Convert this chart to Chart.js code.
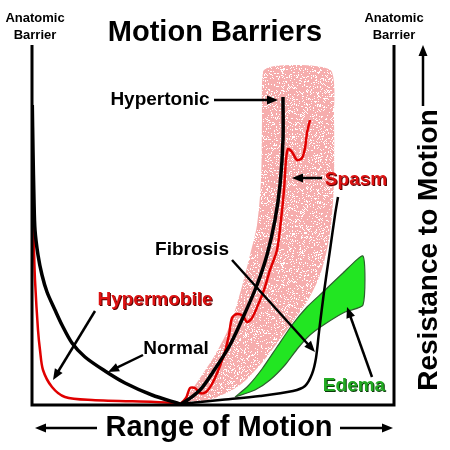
<!DOCTYPE html>
<html>
<head>
<meta charset="utf-8">
<title>Motion Barriers</title>
<script src="https://cdn.jsdelivr.net/npm/chart.js@4.4.1/dist/chart.umd.min.js"></script>
<style>
  html, body { margin: 0; padding: 0; background: #fff; }
  canvas { display: block; }
</style>
</head>
<body>
<canvas id="myChart" width="450" height="450"></canvas>
<script>
// x = range of motion, y = resistance to motion (units)
const barrier = [[0, 360], [0, 0], [362, 0], [362, 360]];

const normal = [[0.3, 300], [1, 255], [2, 205], [3, 175], [6, 150], [10, 130], [15, 113], [23, 95],
  [30, 80], [40, 62], [53, 48], [73, 34], [93, 22], [120, 10], [145, 2], [149, 1], [168, 15],
  [181, 33], [198, 60], [213, 92], [225, 120], [235, 150], [243, 185], [248, 220], [251, 265],
  [251, 308]];

const hypermobile = [[0.5, 215], [2, 155], [3, 125], [6, 75], [8, 55], [11, 35], [20, 18], [33, 8],
  [60, 5], [123, 3], [146, 2], [148, 1], [154, 7], [158, 17], [163, 17], [168, 12], [174, 13],
  [180, 21], [186, 34], [192, 50], [197, 70], [200, 87], [205, 91], [211, 89], [215, 83],
  [220, 87], [226, 100], [232, 115], [238, 135], [245, 155], [249, 185], [252, 215], [254, 245],
  [256, 256], [260, 253], [265, 245], [270, 247], [273, 257], [275, 272], [278, 285]];

const spasmZone = [[148, 1], [156, 10], [168, 27], [183, 50], [198, 80], [209, 115], [218, 150],
  [225, 180], [229, 225], [230, 285], [231, 333], [238, 338], [258, 340], [283, 339], [300, 333],
  [302, 285], [302, 225], [300, 190], [296, 160], [288, 130], [276, 105], [262, 85], [246, 63],
  [228, 40], [208, 20], [183, 7], [163, 2], [148, 1]];

const edema = [[203, 8], [216, 19], [230, 36], [245, 58], [260, 80], [275, 98], [291, 113],
  [311, 132], [331, 149], [331, 100], [313, 93], [293, 81], [278, 70], [266, 57], [253, 40],
  [238, 25], [223, 15], [203, 8]];

const fibrosis = [[148, 1], [188, 5], [228, 9], [261, 14], [273, 19], [280, 31], [284, 47],
  [287, 73], [292, 113], [298, 155], [303, 190], [306, 208]];

// text and arrows drawn on top
const notes = [
  { text: "Motion Barriers", at: [183, 372], font: "bold 29px 'Liberation Sans', Arial", color: "#000" },
  { text: "Anatomic", at: [3, 387], font: "bold 13px 'Liberation Sans', Arial", color: "#000" },
  { text: "Barrier", at: [3, 370], font: "bold 13px 'Liberation Sans', Arial", color: "#000" },
  { text: "Anatomic", at: [362, 387], font: "bold 13px 'Liberation Sans', Arial", color: "#000" },
  { text: "Barrier", at: [362, 370], font: "bold 13px 'Liberation Sans', Arial", color: "#000" },
  { text: "Hypertonic", at: [128, 305], font: "bold 19px 'Liberation Sans', Arial", color: "#000" },
  { text: "Fibrosis", at: [160, 155], font: "bold 19px 'Liberation Sans', Arial", color: "#000" },
  { text: "Normal", at: [144, 56], font: "bold 19px 'Liberation Sans', Arial", color: "#000" },
  { text: "Hypermobile", at: [123, 105], font: "bold 19px 'Liberation Sans', Arial", color: "#dd1111", shadow: "#5a0000" },
  { text: "Spasm", at: [324, 225], font: "bold 19px 'Liberation Sans', Arial", color: "#dd1111", shadow: "#5a0000" },
  { text: "Edema", at: [322, 19], font: "bold 19px 'Liberation Sans', Arial", color: "#22aa22", shadow: "#0a3a0a" },
  { text: "Range of Motion", at: [187, -23], font: "bold 29px 'Liberation Sans', Arial", color: "#000" },
  { text: "Resistance to Motion", at: [397, 155], font: "bold 28px 'Liberation Sans', Arial", color: "#000", rotate: true }
];

const arrows = [
  [182, 305, 246, 305],
  [290, 227, 260, 227],
  [200, 145, 283, 53],
  [63, 94, 21, 25],
  [111, 50, 76, 33],
  [340, 28, 315, 98],
  [65, -23, 3, -23],
  [308, -23, 361, -23],
  [391, 299, 391, 360]
];

function pts(list) {
  return list.map(p => ({ x: p[0], y: p[1] }));
}

function speckle() {
  const size = 97;
  const c = document.createElement("canvas");
  c.width = c.height = size;
  const g = c.getContext("2d");
  g.fillStyle = "#f6adad";
  g.fillRect(0, 0, size, size);
  g.fillStyle = "#ffffff";
  let s = 12345;
  for (let i = 0; i < 1800; i++) {
    s = (s * 16807) % 2147483647;
    const x = s % size;
    s = (s * 16807) % 2147483647;
    const y = s % size;
    g.fillRect(x, y, 1, 1);
  }
  return g.createPattern(c, "repeat");
}

function drawArrow(ctx, x1, y1, x2, y2) {
  const a = Math.atan2(y2 - y1, x2 - x1);
  const len = 11, w = 4.5;
  ctx.save();
  ctx.strokeStyle = "#000";
  ctx.fillStyle = "#000";
  ctx.lineWidth = 2.5;
  ctx.beginPath();
  ctx.moveTo(x1, y1);
  ctx.lineTo(x2 - Math.cos(a) * len * 0.8, y2 - Math.sin(a) * len * 0.8);
  ctx.stroke();
  ctx.translate(x2, y2);
  ctx.rotate(a);
  ctx.beginPath();
  ctx.moveTo(0, 0);
  ctx.lineTo(-len, -w);
  ctx.lineTo(-len, w);
  ctx.closePath();
  ctx.fill();
  ctx.restore();
}

const overlay = {
  id: "overlay",
  afterDatasetsDraw(c) {
    const ctx = c.ctx;
    const px = v => c.scales.x.getPixelForValue(v);
    const py = v => c.scales.y.getPixelForValue(v);
    arrows.forEach(a => drawArrow(ctx, px(a[0]), py(a[1]), px(a[2]), py(a[3])));
    notes.forEach(n => {
      ctx.save();
      ctx.font = n.font;
      ctx.textAlign = "center";
      ctx.textBaseline = "middle";
      ctx.translate(px(n.at[0]), py(n.at[1]));
      if (n.rotate) ctx.rotate(-Math.PI / 2);
      if (n.shadow) {
        ctx.fillStyle = n.shadow;
        ctx.fillText(n.text, 1, 1);
      }
      ctx.fillStyle = n.color;
      ctx.fillText(n.text, 0, 0);
      ctx.restore();
    });
  }
};

const config = {
  type: "scatter",
  data: {
    datasets: [
      { label: "Spasm", data: pts(spasmZone), showLine: true, fill: "shape", tension: 0.3,
        borderWidth: 0, borderColor: "rgba(0,0,0,0)", backgroundColor: speckle(), pointRadius: 0, order: 10 },
      { label: "Edema", data: pts(edema), showLine: true, fill: "shape", tension: 0.2,
        borderWidth: 1.2, borderColor: "#2d5f2d", backgroundColor: "#22e622", pointRadius: 0, order: 9 },
      { label: "Fibrosis", data: pts(fibrosis), showLine: true, tension: 0.3,
        borderWidth: 2.5, borderColor: "#000", pointRadius: 0, order: 5 },
      { label: "Hypermobile", data: pts(hypermobile), showLine: true, tension: 0.3,
        borderWidth: 2.5, borderColor: "#e00000", pointRadius: 0, order: 4 },
      { label: "Normal", data: pts(normal), showLine: true, tension: 0.3,
        borderWidth: 3.5, borderColor: "#000", pointRadius: 0, order: 3 },
      { label: "Barrier", data: pts(barrier), showLine: true, tension: 0,
        borderWidth: 3, borderColor: "#000", pointRadius: 0, clip: false, order: 1 }
    ]
  },
  options: {
    responsive: false,
    animation: false,
    layout: { padding: { left: 32, right: 56, top: 45, bottom: 45 } },
    plugins: { legend: { display: false }, tooltip: { enabled: false } },
    scales: {
      x: { type: "linear", min: 0, max: 362, display: false },
      y: { type: "linear", min: 0, max: 360, display: false }
    }
  },
  plugins: [overlay]
};

window.onload = function () {
  const myChart = document.getElementById("myChart");
  new Chart(myChart, config);
};
</script>
</body>
</html>
